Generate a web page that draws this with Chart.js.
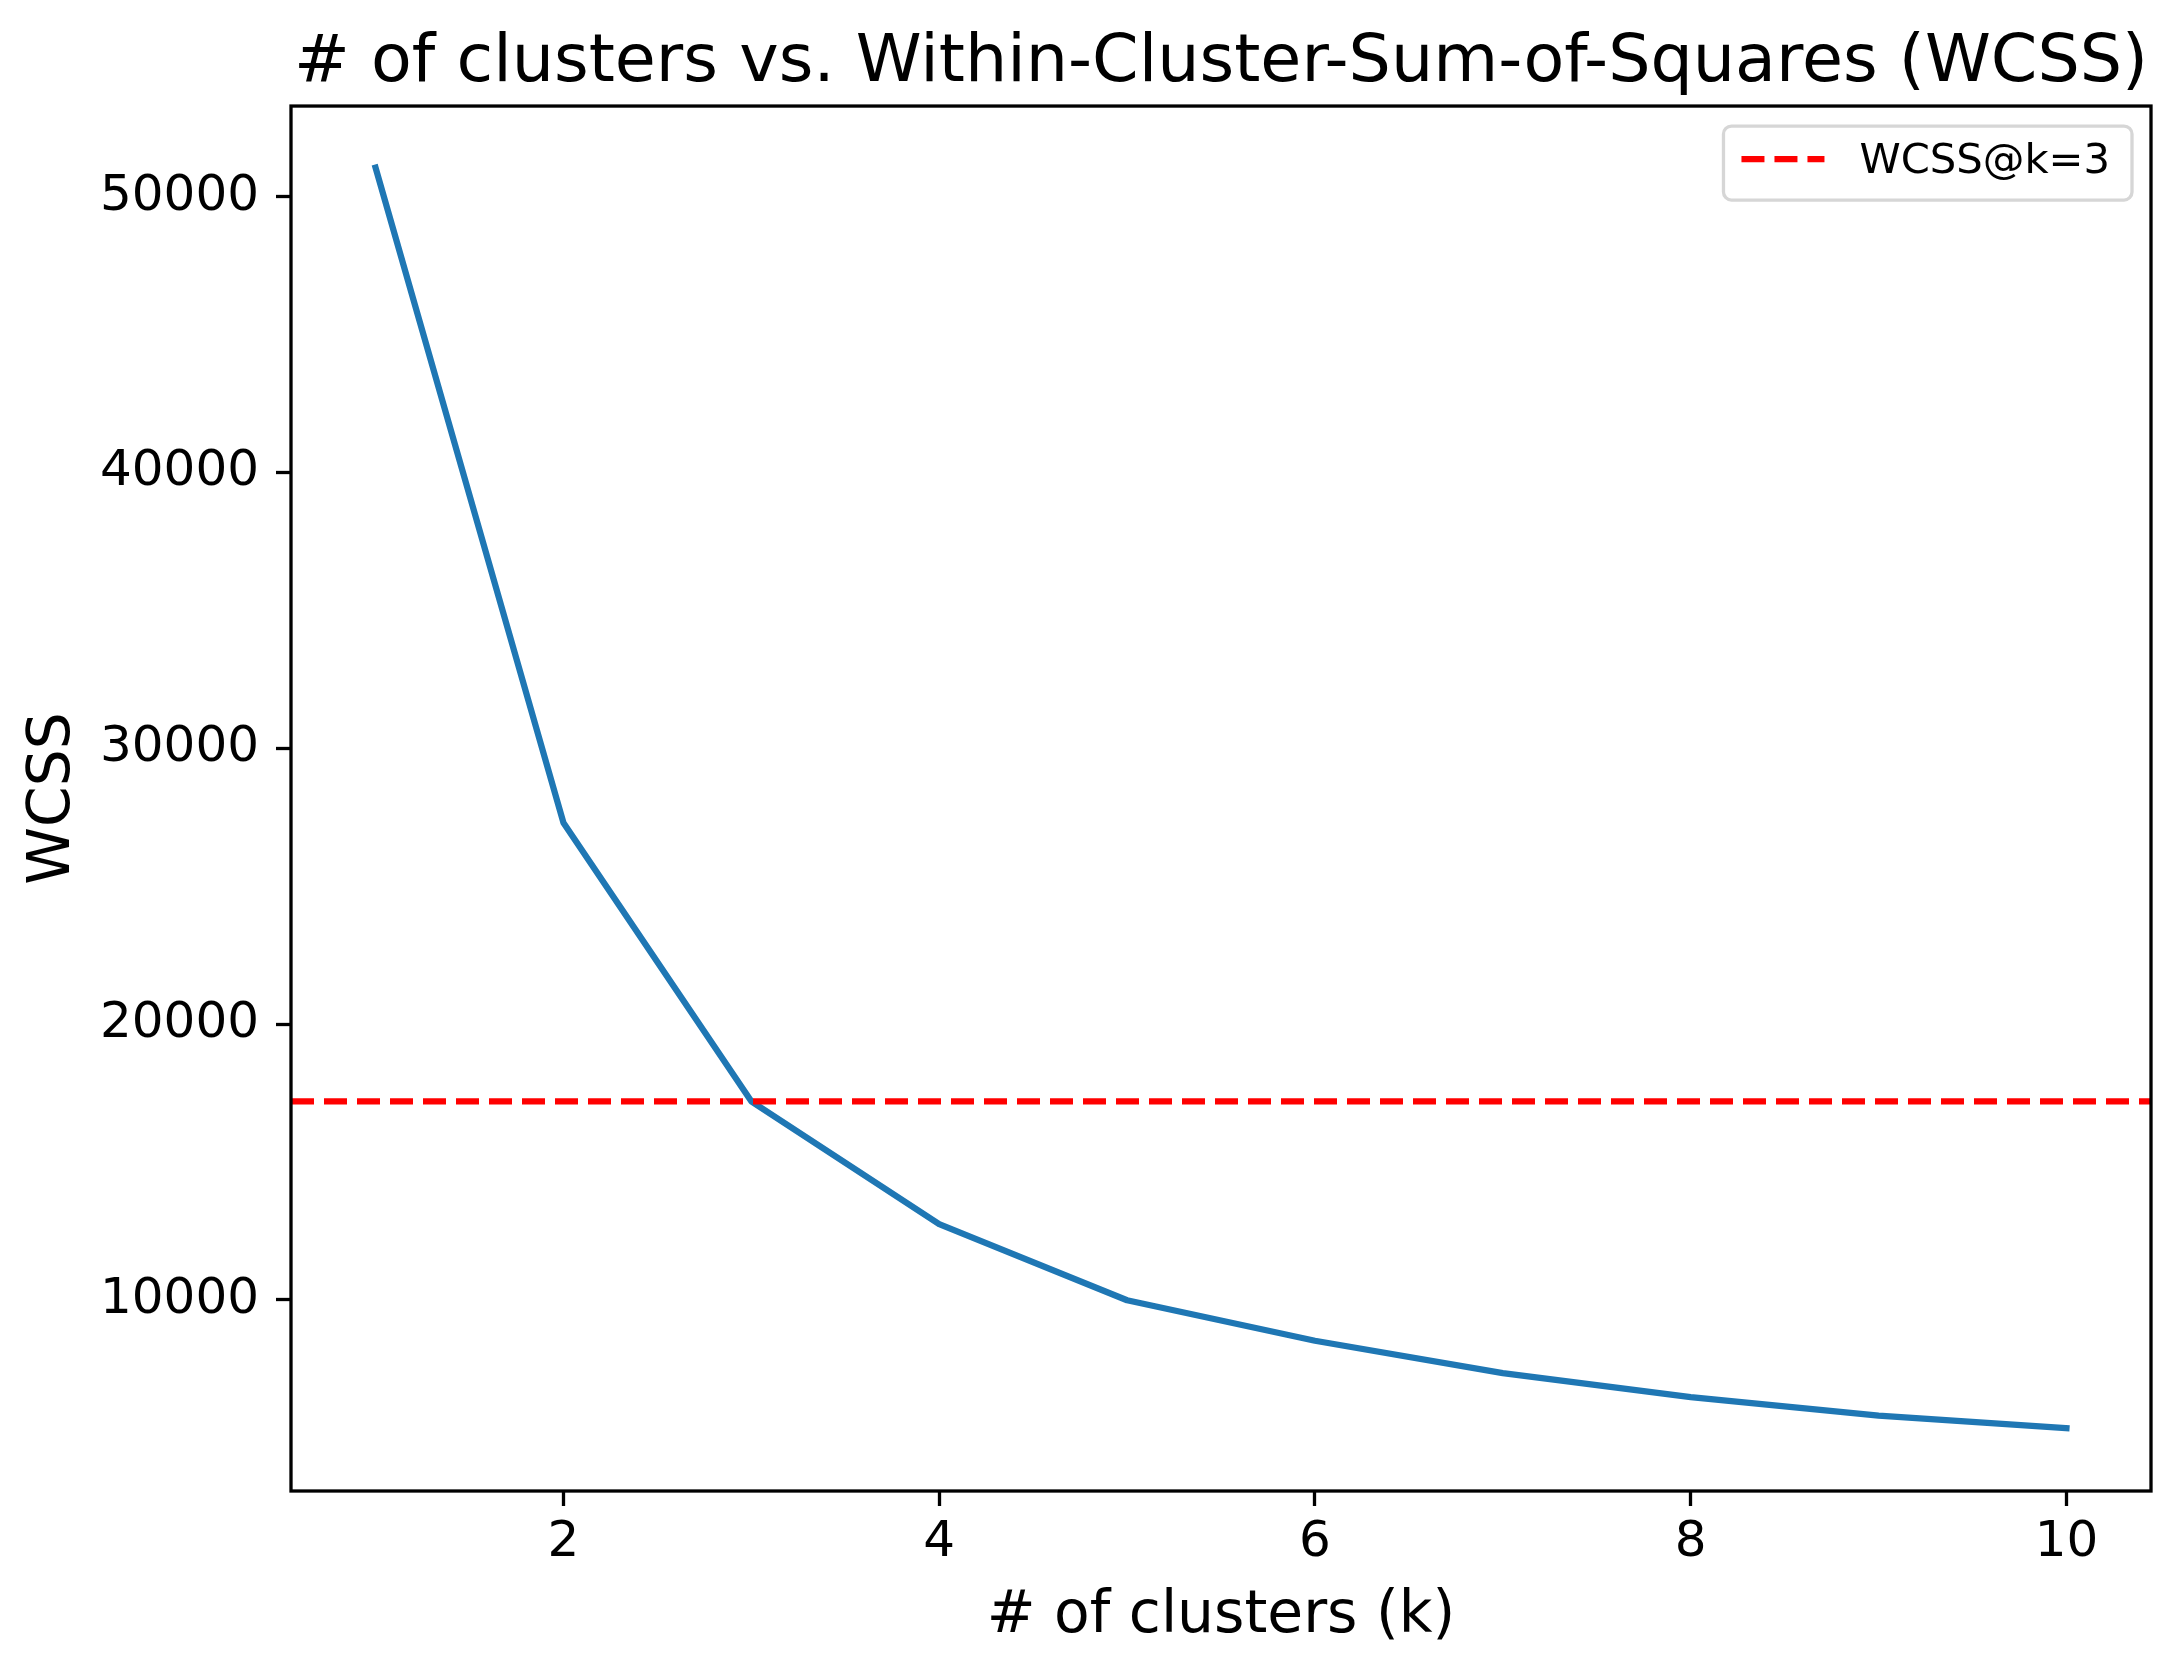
<!DOCTYPE html>
<html>
<head>
<meta charset="utf-8">
<script src="https://cdn.jsdelivr.net/npm/chart.js@4.4.1/dist/chart.umd.min.js"></script>
<style>
  html, body { margin: 0; padding: 0; background: #fff; }
</style>
</head>
<body>
<canvas id="graficoWcss" width="2182" height="1673" style="width:2182px;height:1673px;display:block"></canvas>
<script>
const clusters = [1, 2, 3, 4, 5, 6, 7, 8, 9, 10];
const wcss = [51050, 27300, 17200, 12750, 9990, 8520, 7350, 6480, 5810, 5355];
const kEscolhido = 3;
const xTicks = [2, 4, 6, 8, 10];
const yTicks = [10000, 20000, 30000, 40000, 50000];
const xLimites = [0.55, 10.45];
const yLimites = [3075, 53280];

const wcssEscolhido = wcss[clusters.indexOf(kEscolhido)];

Chart.defaults.font.family = "'DejaVu Sans', sans-serif";
Chart.defaults.color = '#000';

// moldura dos eixos (4 lados) e legenda dentro da area do grafico
const moldura = {
  id: 'moldura',
  afterDraw(chart) {
    const {ctx, chartArea} = chart;
    ctx.save();
    ctx.strokeStyle = '#000';
    ctx.lineWidth = 3.3;
    ctx.strokeRect(chartArea.left, chartArea.top, chartArea.right - chartArea.left, chartArea.bottom - chartArea.top);

    const ds = chart.data.datasets[1];
    ctx.font = "41.7px 'DejaVu Sans'";
    const larguraTexto = ctx.measureText(ds.label).width;
    const w = 136 + larguraTexto + 22;
    const h = 74;
    const right = chartArea.right - 19;
    const top = chartArea.top + 20;
    const left = right - w;

    ctx.beginPath();
    ctx.roundRect(left, top, w, h, 8);
    ctx.fillStyle = 'rgba(255,255,255,0.8)';
    ctx.fill();
    ctx.strokeStyle = '#d6d6d6';
    ctx.lineWidth = 3.3;
    ctx.stroke();

    ctx.beginPath();
    ctx.setLineDash(ds.borderDash);
    ctx.strokeStyle = ds.borderColor;
    ctx.lineWidth = ds.borderWidth;
    ctx.moveTo(left + 18, top + 33);
    ctx.lineTo(left + 101, top + 33);
    ctx.stroke();
    ctx.setLineDash([]);

    ctx.fillStyle = '#000';
    ctx.textBaseline = 'alphabetic';
    ctx.textAlign = 'left';
    ctx.fillText(ds.label, left + 136, top + 47);
    ctx.restore();
  }
};

const grafico = new Chart(document.getElementById('graficoWcss'), {
  type: 'line',
  data: {
    datasets: [{
      label: 'WCSS',
      data: clusters.map((k, i) => ({x: k, y: wcss[i]})),
      borderColor: '#1f77b4',
      borderWidth: 6.25,
      borderJoinStyle: 'round',
      borderCapStyle: 'square',
      pointRadius: 0,
      tension: 0,
      order: 2
    }, {
      label: 'WCSS@k=' + kEscolhido,
      data: [{x: xLimites[0], y: wcssEscolhido}, {x: xLimites[1], y: wcssEscolhido}],
      borderColor: '#ff0000',
      borderWidth: 6.25,
      borderDash: [23, 10],
      pointRadius: 0,
      order: 1
    }]
  },
  options: {
    responsive: false,
    maintainAspectRatio: false,
    devicePixelRatio: 1,
    animation: false,
    layout: { padding: { left: 0, right: 31, top: 0, bottom: 0 } },
    plugins: {
      legend: { display: false },
      tooltip: { enabled: false },
      title: {
        display: true,
        fullSize: false,
        text: '# of clusters vs. Within-Cluster-Sum-of-Squares (WCSS)',
        font: { size: 66.7, weight: 'normal', lineHeight: 1.2 },
        color: '#000',
        padding: { top: 24, bottom: 2 }
      }
    },
    scales: {
      x: {
        type: 'linear',
        min: xLimites[0],
        max: xLimites[1],
        afterBuildTicks: (s) => { s.ticks = xTicks.map(v => ({value: v})); },
        afterFit: (s) => { s.height = 182; },
        ticks: { font: { size: 50 }, padding: 7, callback: (v) => String(v), maxRotation: 0 },
        grid: { drawOnChartArea: false, tickLength: 15, tickWidth: 3.3, tickColor: '#000' },
        border: { display: false },
        title: { display: true, text: '# of clusters (k)', font: { size: 58.3 }, padding: { top: 0, bottom: 21 } }
      },
      y: {
        type: 'linear',
        min: yLimites[0],
        max: yLimites[1],
        afterBuildTicks: (s) => { s.ticks = yTicks.map(v => ({value: v})); },
        afterFit: (s) => { s.width = 291; },
        ticks: { font: { size: 50 }, padding: 17, callback: (v) => String(v) },
        grid: { drawOnChartArea: false, tickLength: 15, tickWidth: 3.3, tickColor: '#000' },
        border: { display: false },
        title: { display: true, text: 'WCSS', font: { size: 58.3 }, padding: { top: 19, bottom: 0 } }
      }
    }
  },
  plugins: [moldura]
});
</script>
</body>
</html>
